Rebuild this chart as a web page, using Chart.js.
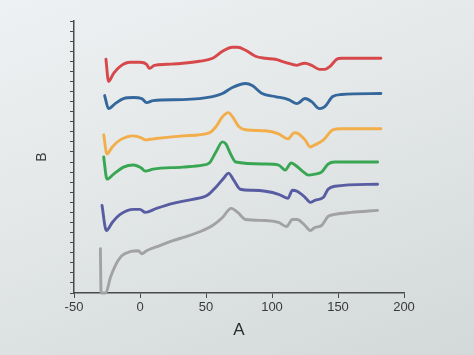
<!DOCTYPE html>
<html>
<head>
<meta charset="utf-8">
<script src="https://cdn.jsdelivr.net/npm/chart.js@4"></script>
<style>
html,body{margin:0;padding:0;}
body{width:474px;height:355px;overflow:hidden;
background:linear-gradient(160deg,#eef1f3 0%,#e3e7e7 45%,#d3d8d8 100%);}
#wrap{position:absolute;left:0;top:0;width:474px;height:355px;}
</style>
</head>
<body>
<div id="wrap"><canvas id="c" width="474" height="355"></canvas></div>
<script>
// x ticks
const xTickValues = [-50, 0, 50, 100, 150, 200];

const xRed = [-25.8,-23.8,-20,-15,-7.5,0,5,7,11,20,32.5,45,55,62.5,70,74,80,87.5,95,102.5,110,119,121,125,130,136,140,144,149,152.5,182.5];
const yRed = [23.2,21,21.8,22.5,22.9,22.9,22.7,22.3,22.6,22.7,22.8,23,23.3,24,24.4,24.4,24.1,23.5,23.3,23.2,22.9,22.6,22.7,22.8,22.6,22.2,22.2,22.5,23.2,23.3,23.3];

const xBlue = [-26.8,-23.8,-18.8,-12.5,-5,1.3,5,10,32.5,55,62.5,70,80,85,92.5,102.5,112.5,119,125,130,136,140,146,152.5,182.5];
const yBlue = [19.6,18.3,18.8,19.3,19.4,19.3,18.9,19.1,19.2,19.5,19.8,20.4,20.8,20.6,19.8,19.5,19.2,18.8,19.3,19,18.3,18.5,19.5,19.7,19.8];

const xOrange = [-27.5,-25,-21,-15,-5,1,4,10,32.5,52.5,57.5,62.5,67,70,75,80,95,105,112,117,120,125,129,132.5,139,146,152.5,182.5];
const yOrange = [15.7,13.8,14.5,15.2,15.6,15.4,15.2,15.3,15.6,15.9,16.5,17.5,17.9,17.5,16.5,16.2,16.1,15.8,15.3,15.9,15.8,15.2,14.5,14.7,15.2,16.2,16.3,16.3];

const xGreen = [-27.5,-25,-20,-12.5,-5,1,4,10,32.5,47.5,52.5,57.5,62.5,65,69,72.5,95,105,110,114.5,117.5,124,127.5,132.5,137.5,142.5,147.5,180];
const yGreen = [13.5,11.3,11.8,12.5,12.7,12.4,12.1,12.3,12.5,12.7,12.9,14,15,14.8,13.7,13,12.8,12.7,12.2,12.9,12.7,12,11.7,11.8,12,12.8,13,13];

const xPurple = [-28.8,-25.5,-21,-15,-5,0,4,12.5,25,40,51,57.5,64,67,71,76,85,95,105,112,115.5,119,125,129,132.5,139,142.5,147.5,180];
const yPurple = [8.7,6.2,7,7.8,8.3,8.3,8,8.4,8.9,9.3,9.7,10.5,11.5,11.9,11.2,10.3,10.2,10.1,9.8,9.4,10.2,10.1,9.5,9,9.2,9.5,10.3,10.6,10.8];

const xGray = [-30,-29.5,-26,-22.5,-18.8,-13.8,-7.5,-1.3,1.3,5,15,25,35,47.5,55,62.5,69,74,80,95,105,111,115.5,119,125,129,132.5,137.5,142.5,147.5,160,180];
const yGray = [4.4,0,0,1.5,2.7,3.7,4.1,4.2,3.9,4.2,4.7,5.2,5.6,6.2,6.7,7.5,8.4,8,7.3,7.2,7,6.6,7.3,7.3,6.7,6.2,6.5,6.7,7.6,7.8,8,8.2];

function pts(xs, ys){ return xs.map((x,i)=>({x:x, y:ys[i]})); }
function ds(xs, ys, color){
  return {data: pts(xs, ys), borderColor: color, borderWidth: 2.9, pointRadius: 0,
          fill: false, cubicInterpolationMode: 'monotone', clip: 4,
          borderCapStyle: 'round', borderJoinStyle: 'round'};
}

new Chart(document.getElementById('c'), {
  type: 'line',
  data: {
    datasets: [
      ds(xRed, yRed, '#d6484a'),
      ds(xBlue, yBlue, '#34679c'),
      ds(xOrange, yOrange, '#f2ae4a'),
      ds(xGreen, yGreen, '#38a653'),
      ds(xPurple, yPurple, '#585ca2'),
      ds(xGray, yGray, '#a2a2a2')
    ]
  },
  options: {
    responsive: false,
    animation: false,
    layout: {padding: {top: 21, right: 70, left: 0, bottom: 0}},
    plugins: {legend: {display: false}, tooltip: {enabled: false}},
    scales: {
      x: {
        type: 'linear', min: -50, max: 200,
        afterBuildTicks: (s) => { s.ticks = xTickValues.map(v => ({value: v})); },
        border: {color: '#4a4a4a', width: 1.5},
        grid: {display: true, drawOnChartArea: false, drawTicks: true, tickLength: 5, color: '#4a4a4a'},
        ticks: {color: '#3a3a3a', font: {family: 'Liberation Sans', size: 13}, padding: 2, maxRotation: 0},
        title: {display: true, text: 'A', color: '#2a2a2a', font: {family: 'Liberation Sans', size: 17}, padding: {top: 4, bottom: 14}},
        afterFit: (s) => { s.height = 62; }
      },
      y: {
        type: 'linear', min: 0, max: 27,
        ticks: {display: false, stepSize: 1},
        border: {color: '#4a4a4a', width: 1.5},
        grid: {display: true, drawOnChartArea: false, drawTicks: true, tickLength: 4, color: '#4a4a4a'},
        title: {display: true, text: 'B', color: '#3a3a3a', font: {family: 'Liberation Sans', size: 14}, padding: {top: 34, bottom: 0}},
        afterFit: (s) => { s.width = 74; }
      }
    }
  }
});
</script>
</body>
</html>
